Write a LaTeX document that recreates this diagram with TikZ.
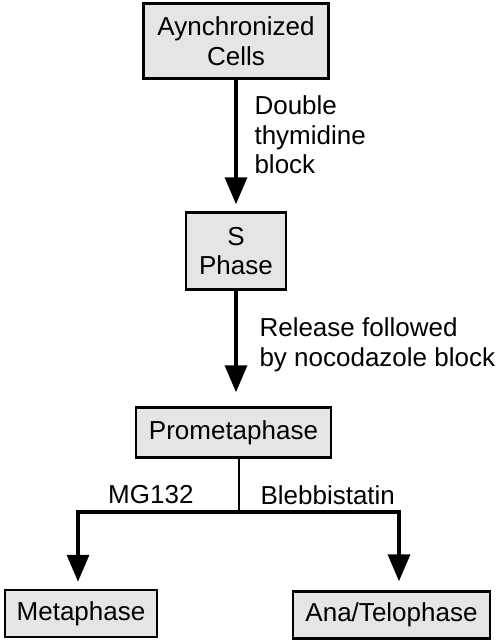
\documentclass[tikz,border=0pt]{standalone}
\usepackage{fontspec}
\setmainfont{Liberation Sans}
\usetikzlibrary{arrows.meta}

\definecolor{boxgray}{gray}{0.9}
\tikzset{
  stage/.style={draw, line width=2.5pt, fill=boxgray, align=center, inner sep=0pt},
  flow/.style={line width=3.5pt, -{Triangle[width=22pt,length=27pt]}},
}

\begin{document}
\begin{tikzpicture}[x=1pt, y=-1pt, every node/.style={font=\fontsize{26}{29.5}\selectfont}]
\useasboundingbox (0,0) rectangle (500,643);

% ===== Các ô =====
\node[stage, minimum width=185, minimum height=75] (async) at (236,41) {Aynchronized\\Cells};
\node[stage, minimum width=100, minimum height=77] (sphase) at (236,251) {S\\Phase};
\node[stage, minimum width=195, minimum height=50] (prometa) at (233.5,432.5) {Prometaphase};
\node[stage, minimum width=152, minimum height=47] (meta) at (81,613.5) {Metaphase};
\node[stage, minimum width=197, minimum height=47] (anatelo) at (391.5,615) {Ana/Telophase};

% ===== Mũi tên dọc =====
\draw[flow, shorten >=7pt] (async.south) -- (sphase.north);
\draw[flow, shorten >=14pt] (sphase.south) -- (sphase.south |- prometa.north);

\node[anchor=west, align=left] (dtb) at (251,135) {Double\\thymidine\\block};
\node[anchor=west, align=left] (relnoc) at (256,345) {Release followed\\by nocodazole block};

% ===== Rẽ nhánh =====
\coordinate (fork) at (239,512);
\coordinate (forkL) at (78,512);
\coordinate (forkR) at (399,512);
\draw[line width=2pt] (prometa.south -| fork) -- (fork);
\draw[flow, shorten >=7pt] (fork) -- (forkL) -- (forkL |- meta.north);
\draw[flow, shorten >=9pt] (fork) -- (forkR) -- (forkR |- anatelo.north);

\node[anchor=east] (mg) at (197,495) {MG132};
\node[anchor=west] (blebb) at (257,495) {Blebbistatin};

\end{tikzpicture}
\end{document}
